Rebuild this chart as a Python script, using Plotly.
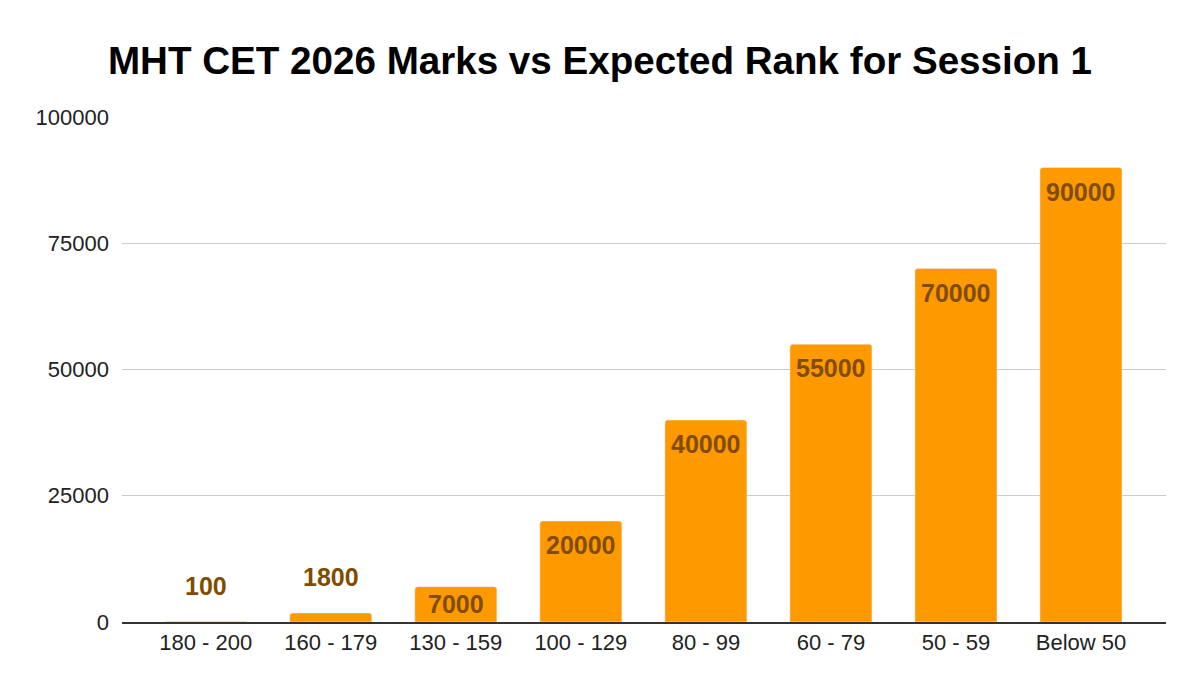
import plotly.graph_objects as go

# marks ranges and expected ranks
marks = ["180 - 200", "160 - 179", "130 - 159", "100 - 129",
         "80 - 99", "60 - 79", "50 - 59", "Below 50"]
ranks = [100, 1800, 7000, 20000, 40000, 55000, 70000, 90000]
y_ticks = [0, 25000, 50000, 75000, 100000]

# the page body has an 8px margin, so the figure is a bit smaller than the window
fig_w, fig_h = 1184, 680
top, bottom = 109, 66
plot_h = fig_h - top - bottom  # used for label offsets
y_max = 100000

fig = go.Figure(go.Bar(
    x=marks,
    y=ranks,
    marker_color="#ff9900",
    width=0.656,
    hoverinfo="x+y",
))

# data labels like google sheets: inside the top for tall bars, above for tiny ones
for m, r in zip(marks, ranks):
    bar_px = r / y_max * plot_h
    if bar_px < 25:
        shift = 36
    else:
        shift = -min(24, bar_px / 2)
    fig.add_annotation(
        x=m, y=r, text=str(r), showarrow=False,
        yanchor="middle", yshift=shift,
        font=dict(family="Liberation Sans, Arial", size=25, color="#7f4c00", weight="bold"),
    )

fig.update_layout(
    width=fig_w, height=fig_h,
    margin=dict(l=114, r=26, t=top, b=bottom),
    paper_bgcolor="white",
    plot_bgcolor="white",
    barcornerradius=3,
    showlegend=False,
    font=dict(family="Liberation Sans, Arial", size=22, color="#222222"),
    title=dict(
        text="MHT CET 2026 Marks vs Expected Rank for Session 1",
        x=0.5, xanchor="center", y=1 - 52 / fig_h, yanchor="middle",
        font=dict(size=38.6, color="#000000", weight="bold"),
    ),
    xaxis=dict(
        range=[-0.67, 7.68],
        showgrid=False,
        showline=True, linecolor="#333333", linewidth=2,
        ticks="", tickfont=dict(size=22, color="#222222"),
    ),
    yaxis=dict(
        range=[0, y_max],
        tickvals=y_ticks,
        ticktext=[str(v) for v in y_ticks],
        showgrid=True, gridcolor="#cccccc", gridwidth=1,
        zeroline=False,
        ticks="", ticklabelstandoff=12,
        tickfont=dict(size=22, color="#222222"),
    ),
)

fig.write_html("out.html")
